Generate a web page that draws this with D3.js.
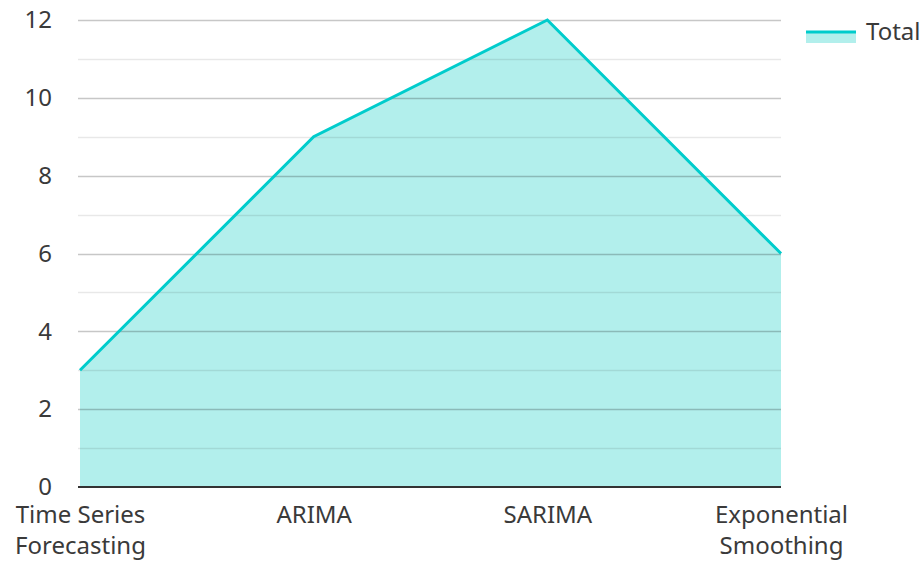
<!DOCTYPE html>
<html>
<head>
<meta charset="utf-8">
<script src="https://cdn.jsdelivr.net/npm/d3@7"></script>
<style>
  html, body { margin: 0; padding: 0; background: #fff; }
  svg { display: block; font-family: "Noto Sans", "Open Sans", sans-serif; }
</style>
</head>
<body>
<svg id="chart" width="922" height="561"></svg>
<script>
// Forecasting methods and their totals
const categories = [["Time Series", "Forecasting"], ["ARIMA"], ["SARIMA"], ["Exponential", "Smoothing"]];
const totals = [3, 9, 12, 6];
const yTicks = [0, 2, 4, 6, 8, 10, 12];
const minorTicks = [1, 3, 5, 7, 9, 11];
const seriesName = "Total";

const svg = d3.select("#chart");
const plotLeft = 80, plotRight = 781, plotTop = 20, plotBottom = 487;
const fontSize = 24;
const textColor = "#3a3a3a";

const x = d3.scalePoint().domain(d3.range(categories.length)).range([plotLeft, plotRight]);
const y = d3.scaleLinear().domain([0, 12]).range([plotBottom, plotTop]);

const lineColor = "#00cccc";
const fillColor = "#b2efec";

// Filled area under the series
svg.append("path")
  .datum(totals)
  .attr("fill", fillColor)
  .attr("d", d3.area().x((d, i) => x(i)).y0(y(0)).y1(d => y(d)));

// Gridlines drawn over the fill
const grid = svg.append("g");
grid.selectAll("line.minor").data(minorTicks).join("line")
  .attr("x1", plotLeft - 2).attr("x2", plotRight)
  .attr("y1", d => Math.round(y(d)) + 0.5).attr("y2", d => Math.round(y(d)) + 0.5)
  .attr("stroke", "rgba(0,0,0,0.09)").attr("stroke-width", 1.5);
grid.selectAll("line.major").data(yTicks.filter(d => d > 0)).join("line")
  .attr("x1", plotLeft - 2).attr("x2", plotRight)
  .attr("y1", d => Math.round(y(d)) + 0.5).attr("y2", d => Math.round(y(d)) + 0.5)
  .attr("stroke", "rgba(0,0,0,0.22)").attr("stroke-width", 1.5);

// Series line
svg.append("path")
  .datum(totals)
  .attr("fill", "none")
  .attr("stroke", lineColor)
  .attr("stroke-width", 3)
  .attr("stroke-linejoin", "miter")
  .attr("d", d3.line().x((d, i) => x(i)).y(d => y(d)));

// Baseline
svg.append("line")
  .attr("x1", plotLeft - 2).attr("x2", plotRight)
  .attr("y1", y(0)).attr("y2", y(0))
  .attr("stroke", "#333").attr("stroke-width", 2);

// Y axis labels
const yAxis = svg.append("g")
  .attr("transform", `translate(${plotLeft - 28},0)`)
  .call(d3.axisLeft(y).tickValues(yTicks).tickSize(0).tickPadding(0));
yAxis.select(".domain").remove();
yAxis.selectAll("text")
  .attr("font-size", fontSize).attr("fill", textColor)
  .attr("font-family", "'Noto Sans', 'Open Sans', sans-serif");

// X axis labels, wrapped onto two lines where needed
const xAxis = svg.append("g")
  .attr("transform", `translate(0,${plotBottom})`)
  .call(d3.axisBottom(x).tickSize(0).tickFormat(() => ""));
xAxis.select(".domain").remove();
xAxis.selectAll(".tick").each(function(i) {
  const t = d3.select(this).select("text")
    .attr("font-size", fontSize).attr("fill", textColor)
    .attr("font-family", "'Noto Sans', 'Open Sans', sans-serif")
    .attr("text-anchor", "middle").attr("y", 0).attr("dy", null);
  categories[i].forEach((ln, k) => {
    t.append("tspan").attr("x", 0).attr("y", 36 + k * 31).text(ln);
  });
});

// Legend
const lg = svg.append("g").attr("transform", "translate(806,0)");
lg.append("rect").attr("x", 0).attr("y", 33).attr("width", 50).attr("height", 10).attr("fill", fillColor);
lg.append("line").attr("x1", 0).attr("x2", 50).attr("y1", 32).attr("y2", 32)
  .attr("stroke", lineColor).attr("stroke-width", 3);
lg.append("text").attr("x", 60).attr("y", 40).text(seriesName)
  .attr("font-size", fontSize).attr("fill", textColor);
</script>
</body>
</html>
